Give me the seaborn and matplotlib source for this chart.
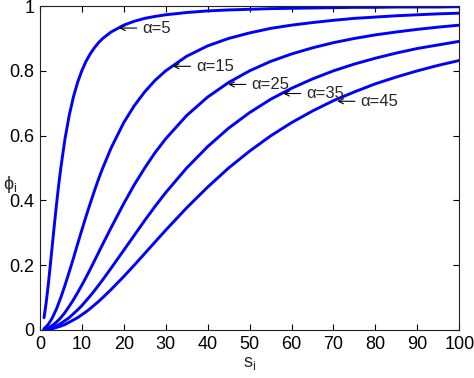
import numpy as np
import pandas as pd
import matplotlib
matplotlib.use("Agg")
import matplotlib.pyplot as plt
import seaborn as sns

# s_i sample positions
s_vals = [1, 1.5, 2, 2.5, 3, 3.5, 4, 4.5, 5, 6, 7, 8, 9, 10, 11, 12, 13, 14, 15, 17, 20,
          22.5, 25, 27.5, 30, 35, 40, 45, 50, 55, 60, 65, 70, 75, 80, 85, 90, 95, 100]

# phi_i for each alpha
phi_a5 = [0.038, 0.083, 0.138, 0.200, 0.265, 0.329, 0.390, 0.448, 0.500, 0.590, 0.662, 0.719,
          0.764, 0.800, 0.829, 0.852, 0.871, 0.887, 0.900, 0.920, 0.941, 0.953, 0.962, 0.968,
          0.973, 0.980, 0.985, 0.988, 0.990, 0.992, 0.993, 0.994, 0.995, 0.996, 0.996, 0.997,
          0.997, 0.997, 0.998]
phi_a15 = [0.004, 0.010, 0.017, 0.027, 0.038, 0.052, 0.066, 0.083, 0.100, 0.138, 0.179, 0.221,
           0.265, 0.308, 0.350, 0.390, 0.429, 0.466, 0.500, 0.562, 0.640, 0.692, 0.735, 0.771,
           0.800, 0.845, 0.877, 0.900, 0.917, 0.931, 0.941, 0.949, 0.956, 0.962, 0.966, 0.970,
           0.973, 0.976, 0.978]
phi_a25 = [0.002, 0.004, 0.006, 0.010, 0.014, 0.019, 0.025, 0.031, 0.038, 0.054, 0.073, 0.093,
           0.115, 0.138, 0.162, 0.187, 0.213, 0.239, 0.265, 0.316, 0.390, 0.448, 0.500, 0.548,
           0.590, 0.662, 0.719, 0.764, 0.800, 0.829, 0.852, 0.871, 0.887, 0.900, 0.911, 0.920,
           0.928, 0.935, 0.941]
phi_a35 = [0.001, 0.002, 0.003, 0.005, 0.007, 0.010, 0.013, 0.016, 0.020, 0.029, 0.038, 0.050,
           0.062, 0.075, 0.090, 0.105, 0.121, 0.138, 0.155, 0.191, 0.246, 0.292, 0.338, 0.382,
           0.424, 0.500, 0.566, 0.623, 0.671, 0.712, 0.746, 0.775, 0.800, 0.821, 0.839, 0.855,
           0.869, 0.880, 0.891]
phi_a45 = [0.000, 0.001, 0.002, 0.003, 0.004, 0.006, 0.008, 0.010, 0.012, 0.017, 0.024, 0.031,
           0.038, 0.047, 0.056, 0.066, 0.077, 0.088, 0.100, 0.125, 0.165, 0.200, 0.236, 0.272,
           0.308, 0.377, 0.441, 0.500, 0.552, 0.599, 0.640, 0.676, 0.708, 0.735, 0.760, 0.781,
           0.800, 0.817, 0.832]

alphas = [5, 15, 25, 35, 45]
# where each arrow label points (s, phi)
label_s = [18.9, 31.7, 44.9, 58.0, 70.9]
label_phi = [0.932, 0.814, 0.758, 0.730, 0.706]

x_ticks = [0, 10, 20, 30, 40, 50, 60, 70, 80, 90, 100]
y_ticks = [0, 0.2, 0.4, 0.6, 0.8, 1]
y_ticklabels = ["0", "0.2", "0.4", "0.6", "0.8", "1"]

sns.set_style("ticks")
plt.rcParams["font.family"] = ["Liberation Sans", "DejaVu Sans"]
plt.rcParams["mathtext.default"] = "regular"

fig = plt.figure(figsize=(4.74, 3.78), dpi=100)
ax = fig.add_axes([0.084, 0.127, 0.885, 0.857])

series = [phi_a5, phi_a15, phi_a25, phi_a35, phi_a45]
for a, phi in zip(alphas, series):
    df = pd.DataFrame({"s": s_vals, "phi": phi})
    sns.lineplot(data=df, x="s", y="phi", ax=ax, color="#0000ff", linewidth=2.1)

# "<- alpha=.." labels, matlab style
for a, sx, sy in zip(alphas, label_s, label_phi):
    ax.annotate("", xy=(sx, sy), xytext=(sx + 4.2, sy),
                arrowprops=dict(arrowstyle="->", lw=0.8, color="black",
                                shrinkA=0, shrinkB=0, mutation_scale=9))
    ax.text(sx + 5.6, sy, "\u03b1=%d" % a, fontsize=12, ha="left", va="center")

ax.set_xlim(0, 100)
ax.set_ylim(0, 1)
ax.set_xticks(x_ticks)
ax.set_yticks(y_ticks)
ax.set_yticklabels(y_ticklabels)
ax.tick_params(direction="in", top=True, right=True, length=4, width=0.8,
               labelsize=13, colors="black", pad=4)
for sp in ax.spines.values():
    sp.set_visible(True)
    sp.set_linewidth(0.8)
    sp.set_color("#222222")

ax.set_xlabel("$s_i$", fontsize=13, labelpad=2)
ax.set_ylabel("$\\phi_i$", fontsize=13, rotation=0, va="center", ha="center")
ax.yaxis.set_label_coords(-0.07, 0.45)

fig.savefig("out.png", dpi=100)
